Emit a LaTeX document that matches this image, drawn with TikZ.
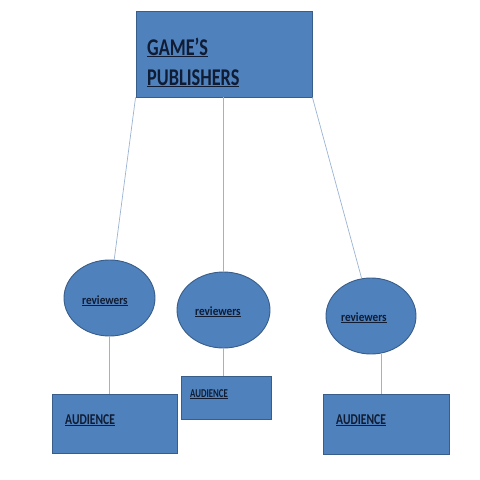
\documentclass[tikz,border=0pt]{standalone}
\usepackage{fontspec}
\setmainfont{Carlito}
\usetikzlibrary{shapes.geometric}
\definecolor{boxfill}{HTML}{4F81BD}
\definecolor{boxline}{HTML}{385D8A}
\definecolor{conn}{HTML}{9BB3D3}
\definecolor{txt}{HTML}{0F1C33}
\tikzset{
  rbox/.style={draw=boxline, fill=boxfill, line width=0.9pt, rectangle, inner sep=0pt},
  oval/.style={draw=boxline, fill=boxfill, line width=0.9pt, ellipse, inner sep=0pt},
  lbl/.style={anchor=base west, inner sep=0pt, text=txt, font=\bfseries},
  link/.style={draw=conn, line width=0.7pt}
}
\newcommand{\sq}[2]{\scalebox{#1}[1]{\underline{#2}}}
\begin{document}
\begin{tikzpicture}[x=1pt,y=-1pt]
\useasboundingbox (0,0) rectangle (480,480);
% shapes
\node[rbox, minimum width=176pt, minimum height=86pt] (top) at (224,54) {};
\node[oval, minimum width=91pt, minimum height=76pt] (r1) at (109.5,298) {};
\node[oval, minimum width=93pt, minimum height=76pt] (r2) at (223.5,310) {};
\node[oval, minimum width=90pt, minimum height=76pt] (r3) at (371,316) {};
\node[rbox, minimum width=125pt, minimum height=59pt] (a1) at (114.5,423.5) {};
\node[rbox, minimum width=90pt, minimum height=43pt] (a2) at (226,397.5) {};
\node[rbox, minimum width=126pt, minimum height=60pt] (a3) at (386,424) {};
% connectors
\draw[link] (top.south west) -- (r1.83);
\draw[link] (top.south -| r2.north) -- (r2.north);
\draw[link] (top.south east) -- (r3.104);
\draw[link] (r1.south) -- (r1.south |- a1.north);
\draw[link] (r2.south) -- (r2.south |- a2.north);
\draw[link] (r3.-75) -- (r3.-75 |- a3.north);
% texts
\node[lbl, font=\bfseries\fontsize{24}{26}\selectfont] (t1) at (147,55) {\sq{0.76}{GAME’S}};
\node[lbl, font=\bfseries\fontsize{24}{26}\selectfont] (t2) at (147,85) {\sq{0.76}{PUBLISHERS}};
\node[lbl, font=\bfseries\fontsize{12.5}{14}\selectfont] (tr1) at (82,304) {\sq{0.9}{reviewers}};
\node[lbl, font=\bfseries\fontsize{12.5}{14}\selectfont] (tr2) at (195,315) {\sq{0.9}{reviewers}};
\node[lbl, font=\bfseries\fontsize{12.5}{14}\selectfont] (tr3) at (341,321) {\sq{0.9}{reviewers}};
\node[lbl, font=\bfseries\fontsize{15}{17}\selectfont] (ta1) at (65,424) {\sq{0.77}{AUDIENCE}};
\node[lbl, font=\bfseries\fontsize{12}{14}\selectfont] (ta2) at (190,397) {\sq{0.73}{AUDIENCE}};
\node[lbl, font=\bfseries\fontsize{15}{17}\selectfont] (ta3) at (336,424) {\sq{0.77}{AUDIENCE}};
\end{tikzpicture}
\end{document}
